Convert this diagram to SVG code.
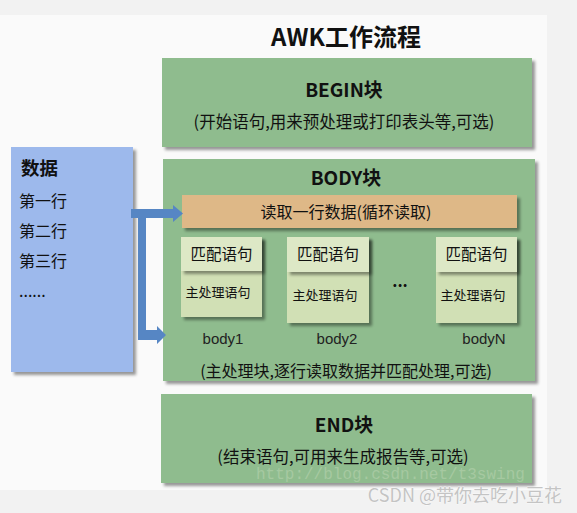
<svg xmlns="http://www.w3.org/2000/svg" width="577" height="513" viewBox="0 0 577 513">
<defs>
<filter id="sh" x="-10%" y="-10%" width="125%" height="130%">
<feDropShadow dx="3" dy="3" stdDeviation="1.8" flood-color="#000" flood-opacity="0.4"/>
</filter>
<style>
.cn{font-family:"Noto Sans CJK SC","Liberation Sans",sans-serif;fill:#111}
.b{font-weight:bold}
.lat{font-family:"Liberation Sans","Noto Sans CJK SC",sans-serif;fill:#222}
.green{fill:#8fbc8e}
.mt{fill:#dde8c6}
.mb{fill:#d1e0b5}
.arrow{fill:#5686c4}
</style>
</defs>
<rect width="577" height="513" fill="#f2f2f2"/>
<rect x="0" y="15" width="547" height="475" fill="#fafafa"/>
<text x="346" y="46" text-anchor="middle" class="cn b" font-size="24">AWK工作流程</text>

<g id="begin">
<rect x="162" y="58" width="370" height="89" class="green" filter="url(#sh)"/>
<text x="344" y="97" text-anchor="middle" class="cn b" font-size="19">BEGIN块</text>
<text x="344" y="128" text-anchor="middle" class="cn" font-size="16.5">(开始语句,用来预处理或打印表头等,可选)</text>
</g>

<g id="data">
<rect x="11" y="147" width="122" height="225" fill="#9db9ec" filter="url(#sh)"/>
<text x="21" y="175" class="cn b" font-size="18.5">数据</text>
<text x="19" y="207" class="cn" font-size="16">第一行</text>
<text x="19" y="237" class="cn" font-size="16">第二行</text>
<text x="19" y="267" class="cn" font-size="16">第三行</text>
<text x="19" y="297" class="cn" font-size="16">......</text>
</g>

<g id="body">
<rect x="163" y="159" width="372" height="222" class="green" filter="url(#sh)"/>
<text x="346" y="185" text-anchor="middle" class="cn b" font-size="19">BODY块</text>
<text x="346" y="377" text-anchor="middle" class="cn" font-size="16">(主处理块,逐行读取数据并匹配处理,可选)</text>
<text x="400" y="287" text-anchor="middle" class="cn b" font-size="16">...</text>
</g>

<g id="read">
<rect x="182" y="195" width="335" height="33" fill="#deb887" filter="url(#sh)"/>
<text x="346" y="218" text-anchor="middle" class="cn" font-size="16">读取一行数据(循环读取)</text>
</g>

<g id="body1">
<rect x="181" y="237" width="81" height="80" class="mb" filter="url(#sh)"/>
<rect x="181" y="237" width="81" height="34" class="mt" filter="url(#sh)"/>
<text x="221.5" y="260" text-anchor="middle" class="cn" font-size="15.5">匹配语句</text>
<text x="218" y="297" text-anchor="middle" class="cn" font-size="13">主处理语句</text>
<text x="223" y="344" text-anchor="middle" class="lat" font-size="15">body1</text>
</g>

<g id="body2">
<rect x="287" y="237" width="82" height="86" class="mb" filter="url(#sh)"/>
<rect x="287" y="237" width="82" height="35" class="mt" filter="url(#sh)"/>
<text x="328" y="260" text-anchor="middle" class="cn" font-size="15.5">匹配语句</text>
<text x="325" y="300" text-anchor="middle" class="cn" font-size="13">主处理语句</text>
<text x="337" y="344" text-anchor="middle" class="lat" font-size="15">body2</text>
</g>

<g id="bodyN">
<rect x="436" y="237" width="81" height="86" class="mb" filter="url(#sh)"/>
<rect x="436" y="237" width="81" height="35" class="mt" filter="url(#sh)"/>
<text x="476.5" y="260" text-anchor="middle" class="cn" font-size="15.5">匹配语句</text>
<text x="473" y="300" text-anchor="middle" class="cn" font-size="13">主处理语句</text>
<text x="484" y="344" text-anchor="middle" class="lat" font-size="15">bodyN</text>
</g>

<g id="end">
<rect x="161" y="394" width="371" height="89" class="green" filter="url(#sh)"/>
<text x="344" y="432" text-anchor="middle" class="cn b" font-size="19">END块</text>
<text x="343" y="463" text-anchor="middle" class="cn" font-size="16.5">(结束语句,可用来生成报告等,可选)</text>
</g>

<g id="connectors">
<path class="arrow" d="M131,209 H173 V205 L183,213.5 L173,222 V218 H146 V330 H157 V326 L166,335 L157,344 V340 H138 V218 H131 Z"/>
</g>

<text x="256" y="479" font-family="Liberation Mono, monospace" font-size="16" fill="#a6c9a1">http://blog.csdn.net/t3swing</text>
<text x="562" y="502" text-anchor="end" font-family="Noto Sans CJK SC, Liberation Sans, sans-serif" font-size="18" fill="#c4c4c4" stroke="#ffffff" stroke-width="0.6" paint-order="stroke">CSDN @带你去吃小豆花</text>
</svg>
